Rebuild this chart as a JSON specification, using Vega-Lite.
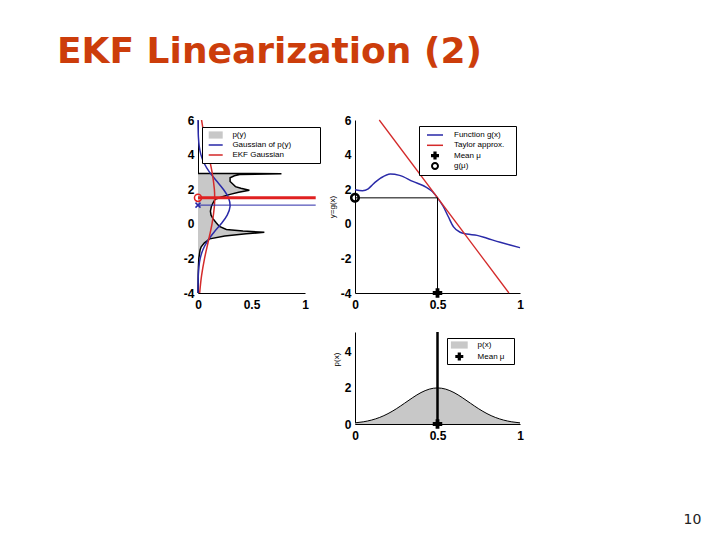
{
  "$schema": "https://vega.github.io/schema/vega-lite/v6.json",
  "padding": {"left": 57, "top": 34, "right": 5, "bottom": 5},
  "background": "white",
  "title": {"text": "EKF Linearization (2)", "anchor": "start", "frame": "group", "font": "DejaVu Sans", "fontSize": 36, "fontWeight": "bold", "color": "#cc3d0b", "dx": -141, "offset": 15, "baseline": "alphabetic"},
  "config": {
    "view": {"stroke": null},
    "axis": {"grid": false, "ticks": false, "domainColor": "black", "domainWidth": 1, "labelColor": "black", "labelFont": "Liberation Sans", "labelFontSize": 12, "labelFontWeight": "bold", "labelFlush": false, "labelOverlap": false, "titleFont": "Liberation Sans", "titleFontSize": 8, "titleFontWeight": "normal", "titleColor": "black"},
    "legend": {"title": null, "strokeColor": "black", "fillColor": "white", "labelFont": "Liberation Sans", "labelFontSize": 8, "labelColor": "black", "symbolSize": 64, "symbolOpacity": 1, "symbolStrokeWidth": 0}
  },
  "bounds": "flush",
  "spacing": 50,
  "resolve": {"scale": {"color": "independent", "shape": "independent"}, "legend": {"color": "independent", "shape": "independent"}},
  "hconcat": [
    {
      "width": 107,
      "height": 173,
      "encoding": {
        "x": {"field": "x", "type": "quantitative", "stack": null, "scale": {"domain": [0, 1], "nice": false, "zero": false}, "axis": {"values": [0, 0.5, 1], "labelExpr": "'' + datum.value", "labelPadding": 6, "title": null}},
        "y": {"field": "y", "type": "quantitative", "scale": {"domain": [-4, 6], "nice": false, "zero": false}, "axis": {"values": [-4, -2, 0, 2, 4, 6], "labelExpr": "'' + datum.value", "labelPadding": 4, "title": null}}
      },
      "layer": [
        {
          "data": {"values": [
            {"y": -4, "x": 0}, {"y": -3, "x": 0.002}, {"y": -2.5, "x": 0.004}, {"y": -2, "x": 0.008}, {"y": -1.7, "x": 0.015}, {"y": -1.5, "x": 0.02}, {"y": -1.33, "x": 0.03}, {"y": -1.1, "x": 0.06}, {"y": -0.87, "x": 0.11}, {"y": -0.7, "x": 0.25}, {"y": -0.58, "x": 0.45}, {"y": -0.49, "x": 0.62}, {"y": -0.42, "x": 0.42}, {"y": -0.33, "x": 0.265}, {"y": -0.15, "x": 0.2}, {"y": 0.06, "x": 0.17}, {"y": 0.3, "x": 0.14}, {"y": 0.5, "x": 0.122}, {"y": 0.73, "x": 0.116}, {"y": 1.0, "x": 0.125}, {"y": 1.2, "x": 0.14}, {"y": 1.41, "x": 0.16}, {"y": 1.55, "x": 0.22}, {"y": 1.7, "x": 0.3}, {"y": 1.82, "x": 0.38}, {"y": 1.94, "x": 0.48}, {"y": 2.05, "x": 0.4}, {"y": 2.15, "x": 0.35}, {"y": 2.27, "x": 0.33}, {"y": 2.45, "x": 0.3}, {"y": 2.66, "x": 0.3}, {"y": 2.78, "x": 0.34}, {"y": 2.85, "x": 0.39}, {"y": 2.9, "x": 0.78}, {"y": 2.91, "x": 0}
          ]},
          "layer": [
            {
              "mark": {"type": "area", "orient": "horizontal", "opacity": 1},
              "encoding": {
                "color": {"datum": "p(y)", "type": "nominal",
                  "scale": {"domain": ["p(y)", "Gaussian of p(y)", "EKF Gaussian"], "range": ["#c8c8c8", "#2a2aa8", "#d42a2a"]},
                  "legend": {"orient": "none", "legendX": 4, "legendY": 7, "padding": 4, "rowPadding": 2, "symbolOffset": 5.7, "labelOffset": 12.7,
                    "labelExpr": "datum.label + '\u2800\u2800\u2800\u2800'"}
                }
              }
            },
            {
              "mark": {"type": "line", "color": "black", "strokeWidth": 1.5},
              "encoding": {"order": {"field": "y", "type": "quantitative"}}
            }
          ]
        },
        {
          "data": {"values": [
            {"y": -4, "x": 0.0002}, {"y": -3.5, "x": 0.0008}, {"y": -3, "x": 0.0027}, {"y": -2.5, "x": 0.008}, {"y": -2, "x": 0.0206}, {"y": -1.5, "x": 0.0458}, {"y": -1, "x": 0.0884}, {"y": -0.5, "x": 0.148}, {"y": 0, "x": 0.216}, {"y": 0.5, "x": 0.273}, {"y": 1, "x": 0.2995}, {"y": 1.5, "x": 0.285}, {"y": 2, "x": 0.236}, {"y": 2.5, "x": 0.17}, {"y": 3, "x": 0.106}, {"y": 3.5, "x": 0.0574}, {"y": 4, "x": 0.027}, {"y": 4.5, "x": 0.011}, {"y": 5, "x": 0.0039}, {"y": 5.5, "x": 0.0012}, {"y": 6, "x": 0.0003}
          ]},
          "mark": {"type": "line", "strokeWidth": 1.5, "interpolate": "catmull-rom"},
          "encoding": {
            "order": {"field": "y", "type": "quantitative"},
            "color": {"datum": "Gaussian of p(y)", "type": "nominal"}
          }
        },
        {
          "data": {"values": [
            {"y": -4, "x": 0.0155}, {"y": -3, "x": 0.0333}, {"y": -2, "x": 0.0613}, {"y": -1, "x": 0.0968}, {"y": 0, "x": 0.131}, {"y": 1, "x": 0.153}, {"y": 1.5, "x": 0.156}, {"y": 2, "x": 0.153}, {"y": 3, "x": 0.131}, {"y": 4, "x": 0.0968}, {"y": 5, "x": 0.0613}, {"y": 6, "x": 0.0333}
          ]},
          "mark": {"type": "line", "strokeWidth": 1.5, "interpolate": "catmull-rom"},
          "encoding": {
            "order": {"field": "y", "type": "quantitative"},
            "color": {"datum": "EKF Gaussian", "type": "nominal"}
          }
        },
        {
          "data": {"values": [{"x": 0, "x2": 1.1, "y": 1.5}]},
          "mark": {"type": "rule", "color": "#e02020", "strokeWidth": 3},
          "encoding": {"x2": {"field": "x2"}}
        },
        {
          "data": {"values": [{"x": 0, "x2": 1.1, "y": 1.08}]},
          "mark": {"type": "rule", "color": "#2a2aa8", "strokeWidth": 1},
          "encoding": {"x2": {"field": "x2"}}
        },
        {
          "data": {"values": [{"x": 0, "y": 1.5}]},
          "layer": [
            {
              "mark": {"type": "point", "shape": "circle", "filled": false, "color": "#e02020", "size": 50, "strokeWidth": 1.5, "opacity": 1}
            },
            {
              "mark": {"type": "point", "filled": true, "opacity": 0},
              "encoding": {
                "shape": {"datum": "p(y)", "type": "nominal",
                  "scale": {"domain": ["p(y)", "Gaussian of p(y)", "EKF Gaussian"], "range": ["M-1.75,-0.9H1.75V0.9H-1.75Z", "M-1.75,-0.19H1.75V0.19H-1.75Z", "M-1.75,-0.19H1.75V0.19H-1.75Z"]},
                  "legend": {"orient": "none", "legendX": 4, "legendY": 7, "padding": 4, "rowPadding": 2, "symbolOffset": 5.7, "labelOffset": 12.7,
                    "labelExpr": "datum.label + '\u2800\u2800\u2800\u2800'"}
                }
              }
            }
          ]
        },
        {
          "data": {"values": [{"x": 0, "y": 1.08}]},
          "mark": {"type": "point", "shape": "M-1,-1L1,1M-1,1L1,-1", "filled": false, "color": "#2a2aa8", "size": 25, "strokeWidth": 1.5, "opacity": 1}
        }
      ]
    },
    {
      "bounds": "flush",
      "spacing": 39,
      "resolve": {"scale": {"color": "independent", "shape": "independent"}, "legend": {"color": "independent", "shape": "independent"}},
      "vconcat": [
        {
          "width": 165,
          "height": 173,
          "encoding": {
            "x": {"field": "x", "type": "quantitative", "scale": {"domain": [0, 1], "nice": false, "zero": false}, "axis": {"values": [0, 0.5, 1], "labelExpr": "'' + datum.value", "labelPadding": 6, "title": null}},
            "y": {"field": "y", "type": "quantitative", "scale": {"domain": [-4, 6], "nice": false, "zero": false}, "axis": {"values": [-4, -2, 0, 2, 4, 6], "labelExpr": "'' + datum.value", "labelPadding": 4, "title": "y=g(x)", "titlePadding": 4}}
          },
          "layer": [
            {
              "data": {"values": [
                {"x": 0, "y": 1.97}, {"x": 0.045, "y": 1.91}, {"x": 0.08, "y": 2.02}, {"x": 0.106, "y": 2.26}, {"x": 0.157, "y": 2.65}, {"x": 0.214, "y": 2.88}, {"x": 0.27, "y": 2.8}, {"x": 0.35, "y": 2.45}, {"x": 0.43, "y": 2.12}, {"x": 0.47, "y": 1.85}, {"x": 0.5, "y": 1.5}, {"x": 0.535, "y": 1.0}, {"x": 0.565, "y": 0.42}, {"x": 0.596, "y": -0.16}, {"x": 0.637, "y": -0.49}, {"x": 0.678, "y": -0.59}, {"x": 0.74, "y": -0.67}, {"x": 0.8, "y": -0.84}, {"x": 0.88, "y": -1.07}, {"x": 0.94, "y": -1.23}, {"x": 1, "y": -1.38}
              ]},
              "mark": {"type": "line", "strokeWidth": 1.5, "interpolate": "monotone"},
              "encoding": {
                "color": {"datum": "Function g(x)", "type": "nominal",
                  "scale": {"domain": ["Function g(x)", "Taylor approx.", "Mean μ", "g(μ)"], "range": ["#2a2aa8", "#d42a2a", "black", "black"]},
                  "legend": {"orient": "none", "legendX": 64, "legendY": 6, "padding": 5, "rowPadding": 2.3, "symbolOffset": 7, "labelOffset": 15,
                    "labelExpr": "datum.label + '\u2800'"}
                }
              }
            },
            {
              "data": {"values": [{"x": 0.147, "y": 6}, {"x": 0.933, "y": -4}]},
              "mark": {"type": "line", "strokeWidth": 1.3},
              "encoding": {"color": {"datum": "Taylor approx.", "type": "nominal"}}
            },
            {
              "data": {"values": [{"x": 0, "x2": 0.5, "y": 1.5, "y2": 1.5}, {"x": 0.5, "x2": 0.5, "y": 1.5, "y2": -4}]},
              "mark": {"type": "rule", "color": "black", "strokeWidth": 1},
              "encoding": {"x2": {"field": "x2"}, "y2": {"field": "y2"}}
            },
            {
              "data": {"values": [{"x": 0.5, "y": -4}]},
              "mark": {"type": "point", "filled": true, "size": 90, "opacity": 1},
              "encoding": {
                "color": {"datum": "Mean μ", "type": "nominal"},
                "shape": {"datum": "Mean μ", "type": "nominal",
                  "scale": {"domain": ["Function g(x)", "Taylor approx.", "Mean μ", "g(μ)"], "range": ["M-2,-0.19H2V0.19H-2Z", "M-2,-0.19H2V0.19H-2Z", "cross", "M-1,0A1,1 0 1,1 1,0A1,1 0 1,1 -1,0Z M-0.5,0A0.5,0.5 0 1,0 0.5,0A0.5,0.5 0 1,0 -0.5,0Z"]},
                  "legend": {"orient": "none", "legendX": 64, "legendY": 6, "padding": 5, "rowPadding": 2.3, "symbolOffset": 7, "labelOffset": 15,
                    "labelExpr": "datum.label + '\u2800'"}
                }
              }
            },
            {
              "data": {"values": [{"x": 0, "y": 1.5}]},
              "mark": {"type": "point", "filled": true, "size": 100, "opacity": 1},
              "encoding": {
                "color": {"datum": "g(μ)", "type": "nominal"},
                "shape": {"datum": "g(μ)", "type": "nominal"}
              }
            }
          ]
        },
        {
          "width": 165,
          "height": 92,
          "encoding": {
            "x": {"field": "x", "type": "quantitative", "stack": null, "scale": {"domain": [0, 1], "nice": false, "zero": false}, "axis": {"values": [0, 0.5, 1], "labelExpr": "'' + datum.value", "labelPadding": 6, "title": "10", "titleX": 337, "titleY": 95, "titleBaseline": "middle", "titleFont": "DejaVu Sans", "titleFontSize": 14, "titleColor": "#222222"}},
            "y": {"field": "y", "type": "quantitative", "scale": {"domain": [0, 5.1], "nice": false, "zero": false}, "axis": {"values": [0, 2, 4], "labelExpr": "'' + datum.value", "labelPadding": 4, "title": "p(x)", "titlePadding": 4, "titleY": 27}}
          },
          "layer": [
            {
              "data": {"values": [
                {"x": 0, "y": 0.063}, {"x": 0.05, "y": 0.121}, {"x": 0.1, "y": 0.218}, {"x": 0.15, "y": 0.366}, {"x": 0.2, "y": 0.575}, {"x": 0.25, "y": 0.841}, {"x": 0.3, "y": 1.149}, {"x": 0.35, "y": 1.464}, {"x": 0.4, "y": 1.742}, {"x": 0.45, "y": 1.932}, {"x": 0.5, "y": 2.0}, {"x": 0.55, "y": 1.932}, {"x": 0.6, "y": 1.742}, {"x": 0.65, "y": 1.464}, {"x": 0.7, "y": 1.149}, {"x": 0.75, "y": 0.841}, {"x": 0.8, "y": 0.575}, {"x": 0.85, "y": 0.366}, {"x": 0.9, "y": 0.218}, {"x": 0.95, "y": 0.121}, {"x": 1, "y": 0.063}
              ]},
              "layer": [
                {
                  "mark": {"type": "area", "interpolate": "monotone", "opacity": 1},
                  "encoding": {
                    "color": {"datum": "p(x)", "type": "nominal",
                      "scale": {"domain": ["p(x)", "Mean μ"], "range": ["#c8c8c8", "black"]},
                      "legend": {"orient": "none", "legendX": 92, "legendY": 6, "padding": 3, "rowPadding": 3.5, "symbolOffset": 5.3, "labelOffset": 14.3,
                        "labelExpr": "datum.label + '\u2800'"}
                    }
                  }
                },
                {
                  "mark": {"type": "line", "color": "black", "strokeWidth": 1, "interpolate": "monotone"}
                }
              ]
            },
            {
              "data": {"values": [{"x": 0.5, "y": 0, "y2": 5.1}]},
              "mark": {"type": "rule", "color": "black", "strokeWidth": 2.5},
              "encoding": {"y2": {"field": "y2"}}
            },
            {
              "data": {"values": [{"x": 0.5, "y": 0}]},
              "mark": {"type": "point", "filled": true, "size": 90, "opacity": 1},
              "encoding": {
                "color": {"datum": "Mean μ", "type": "nominal"},
                "shape": {"datum": "Mean μ", "type": "nominal",
                  "scale": {"domain": ["p(x)", "Mean μ"], "range": ["M-2.1,-0.9H2.1V0.9H-2.1Z", "cross"]},
                  "legend": {"orient": "none", "legendX": 92, "legendY": 6, "padding": 3, "rowPadding": 3.5, "symbolOffset": 5.3, "labelOffset": 14.3,
                    "labelExpr": "datum.label + '\u2800'"}
                }
              }
            }
          ]
        }
      ]
    }
  ]
}
